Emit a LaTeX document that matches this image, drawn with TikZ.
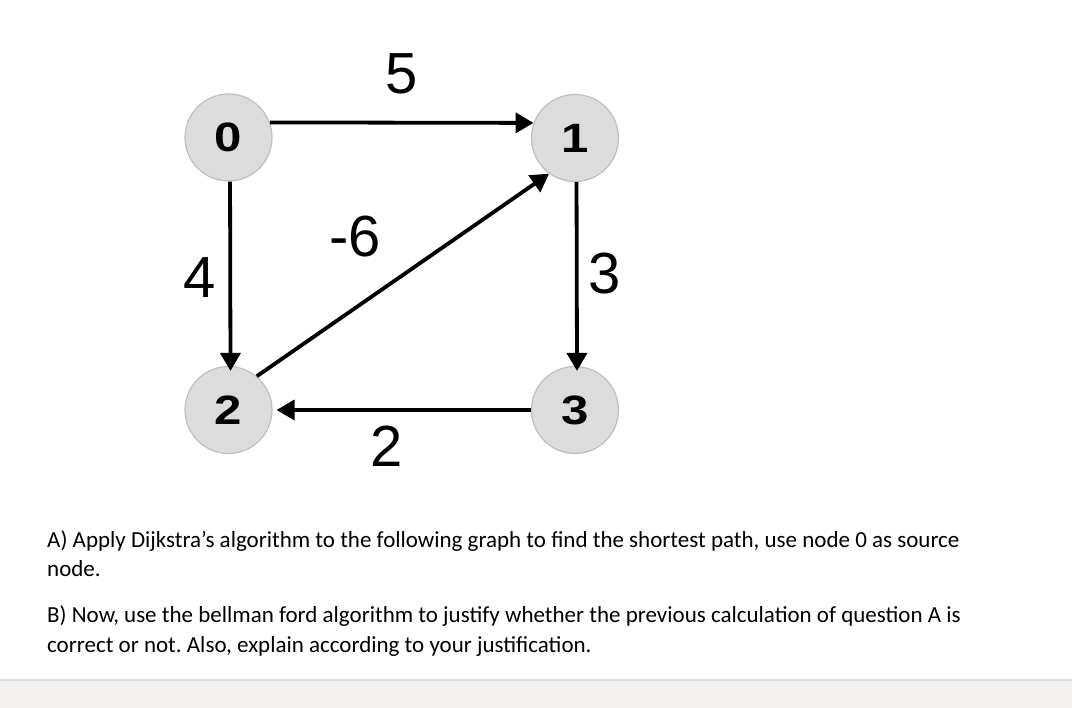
\documentclass[tikz,border=0pt]{standalone}
\usepackage{fontspec}
\usepackage{graphicx}
\setmainfont{Carlito}
\newfontfamily\labfont{Liberation Sans}
\usetikzlibrary{arrows.meta}
\definecolor{nodefill}{HTML}{DCDCDC}
\definecolor{nodedraw}{HTML}{BFBFBF}
\definecolor{bandfill}{HTML}{F2F1EF}
\definecolor{bandline}{HTML}{DCDCDC}
\newcommand{\widedigit}[1]{\scalebox{1.2}[1]{#1}}
\tikzset{
  vertex/.style={circle, minimum size=87pt, inner sep=0pt, fill=nodefill, draw=nodedraw, line width=1.2pt,
    font=\labfont\bfseries\fontsize{41}{41}\selectfont},
  edge/.style={line width=3.8pt, -{Triangle[length=18pt,width=20pt]}},
  wlabel/.style={font=\labfont\fontsize{58}{58}\selectfont, inner sep=0pt},
  question/.style={anchor=base west, align=left, inner sep=0pt, font=\fontsize{23}{30}\selectfont}
}
\frenchspacing
\begin{document}
\begin{tikzpicture}[x=1pt,y=-1pt]
\useasboundingbox (0,0) rectangle (1072,708);
\fill[bandfill] (0,680) rectangle (1072,708);
\draw[bandline, line width=1.2pt] (0,680) -- (1072,680);

\node[vertex] (n0) at (228.5,137.5) {\widedigit{0}};
\node[vertex] (n1) at (575,138) {\widedigit{1}};
\node[vertex] (n2) at (228.5,410) {\widedigit{2}};
\node[vertex] (n3) at (575,410) {\widedigit{3}};

\draw[edge] (n0.20) -- (n1.160);
\draw[edge] (n0.-88) -- ([xshift=2pt,yshift=-5pt]n2.north);
\draw[edge] (n1.-88) -- ([xshift=2pt,yshift=-5pt]n3.north);
\draw[edge] (n3.west) -- ([xshift=4pt]n2.east);
\draw[edge] (n2.50) -- (n1.234);

\node[wlabel] (l5) at (402,74) {5};
\node[wlabel] (l6) at (355,237) {-6};
\node[wlabel] (l4) at (200,278) {4};
\node[wlabel] (l3) at (605,274) {3};
\node[wlabel] (l2) at (387,446) {2};

\node[question] (qa) at (47,577) {A) Apply Dijkstra’s algorithm to the following graph to find the shortest path, use node 0 as source\\node.};
\node[question] (qb) at (47,652) {B) Now, use the bellman ford algorithm to justify whether the previous calculation of question A is\\correct or not. Also, explain according to your justification.};
\end{tikzpicture}
\end{document}
